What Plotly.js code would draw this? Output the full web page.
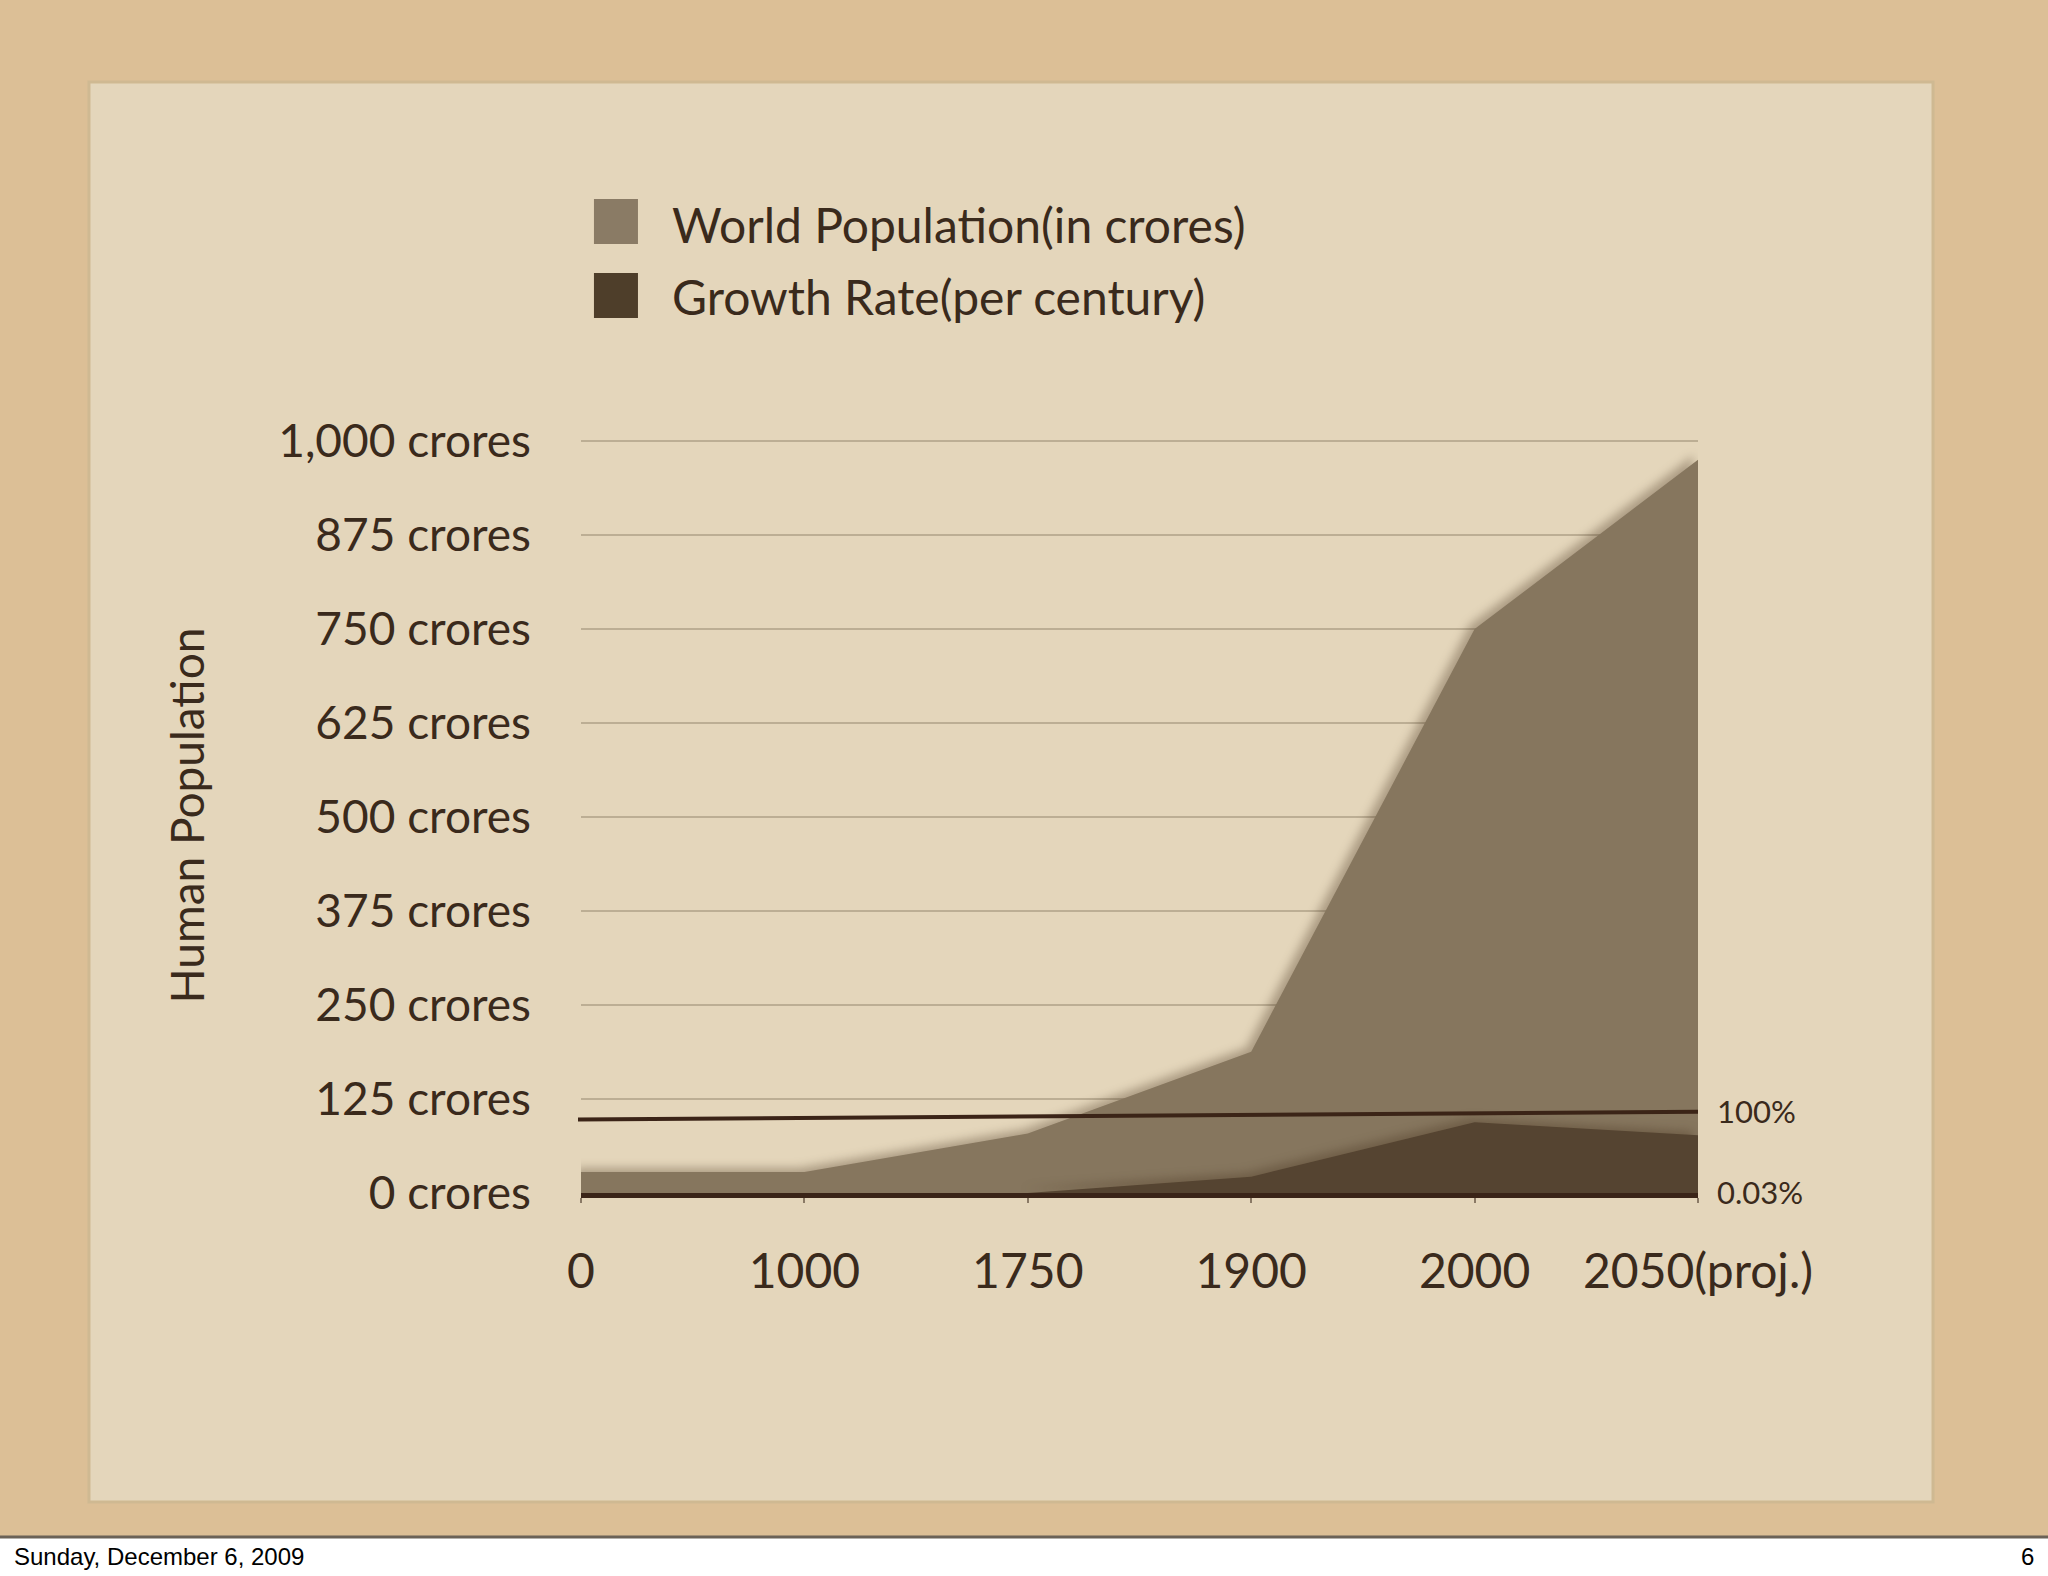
<!DOCTYPE html>
<html>
<head>
<meta charset="utf-8">
<script src="https://cdn.plot.ly/plotly-3.0.1.min.js"></script>
<style>
  html, body { margin: 0; padding: 0; background: #dcbf96; }
  #chart { width: 2048px; height: 1576px; }
  #chart .js-fill { filter: drop-shadow(-5px -4px 5px rgba(70, 50, 30, 0.35)); }
</style>
</head>
<body>
<div id="chart"></div>
<script>
// ---- data ----
const years = ['0', '1000', '1750', '1900', '2000', '2050(proj.)'];
const population = [28, 28, 79, 188, 750, 975];        // crores
const growthRate = [0, 0, 0, 20, 87, 71];               // % of the 100% mark (per century)
const popTickVals = [0, 125, 250, 375, 500, 625, 750, 875, 1000];
const popTickText = ['0 crores', '125 crores', '250 crores', '375 crores', '500 crores',
                     '625 crores', '750 crores', '875 crores', '1,000 crores'];
const rateTickVals = [0, 100];
const rateTickText = ['0.03%', '100%'];
const seriesNames = ['World Population(in crores)', 'Growth Rate(per century)'];

const ink = '#3a2a1c';
const popColor = '#86765e';
const rateColor = '#554431';
const font = 'Lato, "Open Sans", sans-serif';

const traces = [
  {
    type: 'scatter', mode: 'lines', name: seriesNames[0],
    x: years, y: population, fill: 'tozeroy',
    fillcolor: popColor, line: { width: 0, color: popColor },
    yaxis: 'y', hoverinfo: 'skip'
  },
  {
    type: 'scatter', mode: 'lines', name: seriesNames[1],
    x: years, y: growthRate, fill: 'tozeroy',
    fillcolor: rateColor, line: { width: 0, color: rateColor },
    yaxis: 'y2', hoverinfo: 'skip'
  }
];

// plot area: 0 at y=1193px, 1000 at y=441px (plot top 438px, height 755px)
const layout = {
  width: 2048, height: 1576,
  margin: { l: 581, r: 350, t: 438, b: 383 },
  paper_bgcolor: '#dcbf96',
  plot_bgcolor: 'rgba(0,0,0,0)',
  showlegend: false,
  font: { family: font, color: ink },
  xaxis: {
    type: 'category', categoryorder: 'array', categoryarray: years,
    range: [0, 5], showgrid: false, zeroline: false,
    showline: true, linecolor: '#3a2418', linewidth: 5,
    ticks: 'outside', ticklen: 5, tickwidth: 2, tickcolor: '#8a7a66',
    ticklabelstandoff: 27,
    tickfont: { family: font, size: 48, color: ink }
  },
  yaxis: {
    range: [0, 1004], tickvals: popTickVals, ticktext: popTickText,
    showgrid: true, gridcolor: '#bcae94', gridwidth: 2,
    zeroline: false, showline: false, ticks: '',
    ticklabelstandoff: 49,
    tickfont: { family: font, size: 46, color: ink },
    title: { text: 'Human Population', font: { family: font, size: 46, color: ink }, standoff: 59 }
  },
  yaxis2: {
    overlaying: 'y', side: 'right', range: [0, 928.7],
    tickvals: rateTickVals, ticktext: rateTickText,
    showgrid: false, zeroline: false, showline: false, ticks: '',
    ticklabelstandoff: 18,
    tickfont: { family: font, size: 31, color: ink }
  },
  shapes: [
    // paper card
    { type: 'rect', xref: 'paper', yref: 'paper', layer: 'below',
      x0: -0.4405, x1: 1.2104, y0: -0.4093, y1: 1.4715,
      fillcolor: '#e4d6bb', line: { color: '#cfb992', width: 3 } },
    // footer
    { type: 'rect', xref: 'paper', yref: 'paper', layer: 'below',
      x0: -0.53, x1: 1.32, y0: -0.52, y1: -0.4556,
      fillcolor: '#ffffff', line: { width: 0 } },
    { type: 'line', xref: 'paper', yref: 'paper', layer: 'below',
      x0: -0.53, x1: 1.32, y0: -0.4556, y1: -0.4556,
      line: { color: '#6b6257', width: 3 } },
    // 100% reference line
    { type: 'line', xref: 'paper', yref: 'y2', layer: 'above',
      x0: -0.0027, x1: 1, y0: 90.4, y1: 100,
      line: { color: '#3b2417', width: 4 } },
    // legend swatches
    { type: 'rect', xref: 'paper', yref: 'paper',
      x0: 0.0116, x1: 0.0510, y0: 1.2570, y1: 1.3166,
      fillcolor: '#8a7b65', line: { width: 0 } },
    { type: 'rect', xref: 'paper', yref: 'paper',
      x0: 0.0116, x1: 0.0510, y0: 1.1589, y1: 1.2185,
      fillcolor: '#4e3e2a', line: { width: 0 } }
  ],
  annotations: [
    { xref: 'paper', yref: 'paper', x: 0.0797, y: 1.2834, xanchor: 'left', yanchor: 'middle',
      text: seriesNames[0], showarrow: false, font: { family: font, size: 48, color: ink } },
    { xref: 'paper', yref: 'paper', x: 0.0797, y: 1.1868, xanchor: 'left', yanchor: 'middle',
      text: seriesNames[1], showarrow: false, font: { family: font, size: 48, color: ink } },
    { xref: 'paper', yref: 'paper', x: -0.5094, y: -0.4821, xanchor: 'left', yanchor: 'middle',
      text: 'Sunday, December 6, 2009', showarrow: false,
      font: { family: 'Arial, "Liberation Sans", sans-serif', size: 24, color: '#000000' } },
    { xref: 'paper', yref: 'paper', x: 1.3026, y: -0.4821, xanchor: 'right', yanchor: 'middle',
      text: '6', showarrow: false,
      font: { family: 'Arial, "Liberation Sans", sans-serif', size: 24, color: '#000000' } }
  ]
};

Plotly.newPlot('chart', traces, layout, { staticPlot: true, displayModeBar: false });
</script>
</body>
</html>
